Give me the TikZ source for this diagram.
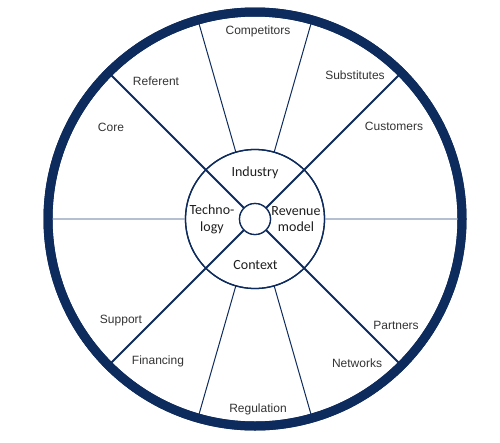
\documentclass[tikz,border=0pt]{standalone}
\usepackage{fontspec}
\setmainfont{Liberation Sans}
\newfontfamily\innerfont{Carlito}
\definecolor{navy}{HTML}{0E2B5E}
\definecolor{lightline}{HTML}{B4C0D2}
\definecolor{txt}{HTML}{333333}
\definecolor{intxt}{HTML}{1E1E1E}
\begin{document}
\begin{tikzpicture}[x=1pt,y=1pt,
  ringstyle/.style={circle,draw=navy,line width=9pt,minimum size=414pt,inner sep=0pt,outer sep=0pt},
  innerstyle/.style={circle,draw=navy,line width=1.3pt,minimum size=139pt,inner sep=0pt,outer sep=0pt},
  hubstyle/.style={circle,draw=navy,line width=1.3pt,fill=white,minimum size=31pt,inner sep=0pt,outer sep=0pt},
  diag/.style={draw=navy,line width=2pt},
  thin/.style={draw=navy,line width=1pt},
  horiz/.style={draw=lightline,line width=1.3pt},
  outlabel/.style={text=txt,font=\fontsize{12}{14}\selectfont,inner sep=0pt},
  inlabel/.style={text=intxt,font=\innerfont\fontsize{14}{16.5}\selectfont,inner sep=0pt,align=center}
]
\useasboundingbox (0,0) rectangle (500,-442);
\coordinate (c) at (255,-219);
\node[innerstyle] (inner) at (c) {};
\node[ringstyle] (ring) at (c) {};
% horizontal light lines
\draw[horiz] (inner.0) -- (ring.0);
\draw[horiz] (inner.180) -- (ring.180);
% thin radial lines
\draw[thin] (inner.74) -- (ring.74);
\draw[thin] (inner.106) -- (ring.106);
\draw[thin] (inner.-74) -- (ring.-74);
\draw[thin] (inner.-106) -- (ring.-106);
% hub
\node[hubstyle] (hub) at (c) {};
% diagonals
\draw[diag] (hub.45) -- (ring.45);
\draw[diag] (hub.135) -- (ring.135);
\draw[diag] (hub.225) -- (ring.225);
\draw[diag] (hub.315) -- (ring.315);
% redraw circles on top
\node[innerstyle] at (c) {};
\node[hubstyle] at (c) {};
\node[ringstyle] at (c) {};
% inner labels
\node[inlabel] (industry) at (255,-173) {Industry};
\node[inlabel] (tech) at (212,-219.5) {Techno-\\logy};
\node[inlabel] (rev) at (296,-219) {Revenue\\model};
\node[inlabel] (context) at (255.5,-265) {Context};
% outer labels
\node[outlabel] (competitors) at (258,-31) {Competitors};
\node[outlabel] (referent) at (156,-81) {Referent};
\node[outlabel] (substitutes) at (355,-75) {Substitutes};
\node[outlabel] (core) at (111,-127) {Core};
\node[outlabel] (customers) at (394,-126) {Customers};
\node[outlabel] (support) at (121,-321) {Support};
\node[outlabel] (financing) at (158,-361) {Financing};
\node[outlabel] (partners) at (396,-325) {Partners};
\node[outlabel] (networks) at (357,-363) {Networks};
\node[outlabel] (regulation) at (258,-409) {Regulation};
\end{tikzpicture}
\end{document}
